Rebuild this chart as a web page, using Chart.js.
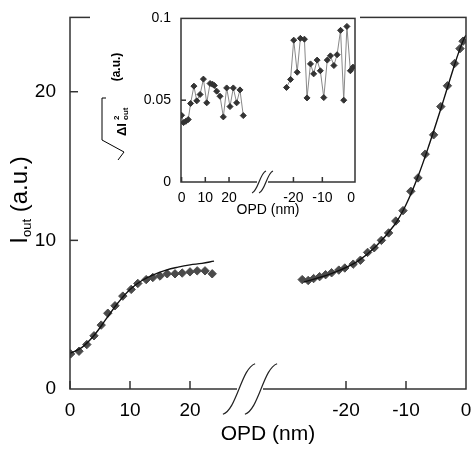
<!DOCTYPE html>
<html><head><meta charset="utf-8">
<script src="https://cdn.jsdelivr.net/npm/chart.js@4.4.0/dist/chart.umd.min.js"></script>
<style>
body{margin:0;background:#fff;}
#wrap{position:relative;width:474px;height:451px;}
#main{position:absolute;left:0;top:0;}
#inset{position:absolute;left:90px;top:8px;}
</style></head><body>
<div id="wrap"><canvas id="main" width="474" height="451"></canvas><canvas id="inset" width="270" height="215"></canvas></div>
<script>
// Main data: OPD (nm) and I_out (a.u.)
const leftOPD = [0.1,1.5,2.8,4,5.2,6.3,7.5,8.8,10.2,11.3,12.7,13.8,15,16.2,17.5,18.7,20,21.2,22.5,23.7];
const leftI   = [2.36,2.54,2.99,3.58,4.3,5.1,5.6,6.25,6.7,7.1,7.36,7.5,7.6,7.75,7.75,7.8,7.88,7.95,7.95,7.75];
const rightOPD = [-27.3,-26.3,-25.4,-24.4,-23.4,-22.4,-21.2,-20.2,-18.8,-17.6,-16.4,-15.3,-14.1,-12.9,-11.7,-10.5,-9.2,-8.0,-6.8,-5.4,-4.2,-3.1,-1.9,-1.0,-0.5];
const rightI   = [7.36,7.3,7.43,7.56,7.69,7.82,8.0,8.14,8.4,8.66,9.19,9.5,10.0,10.5,11.3,12.0,13.3,14.2,15.8,17.1,19.0,20.4,21.9,22.9,23.4];
const fitLeftOPD = [0,2,4,6,8,10,12,14,16,18,20,22,24];
const fitLeftI   = [2.4,2.8,3.6,4.7,5.8,6.7,7.3,7.7,8.0,8.2,8.35,8.45,8.6];
const fitRightOPD = [-27,-24,-21,-18,-15,-12,-10,-8,-6,-4,-2,-1,-0.3,0];
const fitRightI   = [7.2,7.55,8.0,8.6,9.6,11.0,12.4,14.3,16.6,19.1,21.7,22.9,23.6,23.8];
const mainTicksX = [0,10,20,-20,-10,0];
const mainTicksY = [0,10,20];
// Inset data: OPD (nm) and sqrt(ΔI²out) (a.u.)
const inLeftOPD = [0,0.84,1.8,2.8,3.8,5.2,6.4,7.8,9.2,10.6,12,13,13.8,14.8,16.2,17.6,19,20.4,21.8,23.2,24.6,26];
const inLeftV = [0.0408,0.0363,0.0371,0.0382,0.048,0.0586,0.0496,0.0535,0.0629,0.0484,0.0602,0.0598,0.059,0.0555,0.0524,0.0398,0.0575,0.0461,0.0575,0.0484,0.0563,0.0406];
const inRightOPD = [-22.4,-21,-19.9,-18.7,-17.6,-16.2,-15.3,-14.1,-13,-11.8,-10.7,-9.5,-8.3,-7.2,-6.0,-4.9,-3.7,-2.6,-1.5,-0.3,0.6];
const inRightV = [0.0578,0.0627,0.0867,0.0671,0.0878,0.0873,0.0514,0.0722,0.0661,0.0745,0.068,0.0516,0.0745,0.0771,0.0712,0.0778,0.0927,0.05,0.0951,0.068,0.0702];
const insetTicksX = [0,10,20,-20,-10,0];
const insetTicksY = [0,0.05,0.1];

const mainPos = (o,right)=> right ? 66+o : o;
const inPos = (o,right)=> right ? 58.7+o : o*0.821;
const pts=(xs,ys,f,r)=>xs.map((x,i)=>({x:f(x,r),y:ys[i]}));

const INK='#333';
function frameTicks(opts){
  return {id:'frame'+opts.id,afterDraw(c){
    const a=c.chartArea,ctx=c.ctx;ctx.save();
    ctx.strokeStyle=INK;ctx.lineWidth=1.5;ctx.strokeRect(a.left,a.top,a.right-a.left,a.bottom-a.top);
    const xs=c.scales.x, ys=c.scales.y;
    opts.xt.forEach(v=>{const px=xs.getPixelForValue(v);ctx.beginPath();ctx.moveTo(px,a.bottom);ctx.lineTo(px,a.bottom-opts.tl);ctx.stroke();});
    opts.yt.forEach(v=>{const py=ys.getPixelForValue(v);ctx.beginPath();ctx.moveTo(a.left,py);ctx.lineTo(a.left+opts.tl,py);ctx.stroke();});
    ctx.strokeStyle='#222';ctx.lineWidth=1.2;ctx.fillStyle='#fff';
    const bx=xs.getPixelForValue(opts.bx), by=a.bottom, h=opts.bh, g=opts.bg;
    ctx.fillRect(bx-g/2-2,by-3,g+4,6);
    [-g/2,g/2].forEach(d=>{ctx.beginPath();ctx.moveTo(bx+d-h*0.35,by+h*0.55);
      ctx.bezierCurveTo(bx+d-h*0.05,by+h*0.45,bx+d+h*0.05,by-h*0.45,bx+d+h*0.35,by-h*0.55);ctx.stroke();});
    opts.extra && opts.extra(ctx,c);
    ctx.restore();}};
}
function ds(data,line){
  return line?{data,showLine:true,borderColor:'#111',borderWidth:1.4,pointRadius:0,tension:0.4,fill:false,order:0}
   :{data,showLine:false,pointStyle:'rectRot',pointRadius:4.2,backgroundColor:'#4a4a4a',borderColor:'#4a4a4a',order:1};
}
new Chart(document.getElementById('main'),{type:'scatter',
 data:{datasets:[ds(pts(leftOPD,leftI,mainPos,false)),ds(pts(rightOPD,rightI,mainPos,true)),
   ds(pts(fitLeftOPD,fitLeftI,mainPos,false),true),ds(pts(fitRightOPD,fitRightI,mainPos,true),true)]},
 options:{responsive:false,animation:false,layout:{padding:{top:-7,right:8}},
  plugins:{legend:{display:false},tooltip:{enabled:false}},
  scales:{
   x:{type:'linear',min:0,max:66,afterFit(s){s.height=62;},
     afterBuildTicks(s){s.ticks=mainTicksX.map((v,i)=>({value:mainPos(v,i>2)}));},
     grid:{display:false},border:{display:false},
     ticks:{color:'#000',font:{family:'Liberation Sans',size:19},padding:2,callback:v=>v<30?v:Math.round(v-66)},
     title:{display:true,text:'OPD (nm)',color:'#000',font:{family:'Liberation Sans',size:21},padding:{top:4}}},
   y:{min:0,max:25,afterFit(s){s.width=70;},
     afterBuildTicks(s){s.ticks=mainTicksY.map(v=>({value:v}));},
     grid:{display:false},border:{display:false},
     ticks:{color:'#000',font:{family:'Liberation Sans',size:19},padding:6}}}},
 plugins:[frameTicks({id:'m',xt:[0,10,20,46,56],yt:[10,20],tl:8,bx:30,bh:46,bg:22,extra(ctx){
   ctx.fillStyle='#000';ctx.translate(20,200);ctx.rotate(-Math.PI/2);ctx.textBaseline='middle';
   ctx.font='13px Liberation Sans';const ws=ctx.measureText('out').width;
   ctx.font='24px Liberation Sans';const w1=ctx.measureText('I').width,w2=ctx.measureText(' (a.u.)').width;let x=-(w1+ws+w2)/2;
   ctx.textAlign='left';ctx.fillText('I',x,0);x+=w1;ctx.font='13px Liberation Sans';ctx.fillText('out',x,7);x+=ws;
   ctx.font='24px Liberation Sans';ctx.fillText(' (a.u.)',x,0);}})]
});
const OX=90, OY=8;
new Chart(document.getElementById('inset'),{type:'scatter',
 data:{datasets:[
  {data:pts(inLeftOPD,inLeftV,inPos,false),showLine:true,borderColor:'#888',borderWidth:1,pointStyle:'rectRot',pointRadius:3,backgroundColor:'#333',pointBorderColor:'#333'},
  {data:pts(inRightOPD,inRightV,inPos,true),showLine:true,borderColor:'#888',borderWidth:1,pointStyle:'rectRot',pointRadius:3,backgroundColor:'#333',pointBorderColor:'#333'}]},
 options:{responsive:false,animation:false,layout:{padding:{top:-1,right:4}},
  plugins:{legend:{display:false},tooltip:{enabled:false}},
  scales:{
   x:{type:'linear',min:-0.2,max:60,afterFit(s){s.height=41;},
     afterBuildTicks(s){s.ticks=insetTicksX.map((v,i)=>({value:inPos(v,i>2)}));},
     grid:{display:false},border:{display:false},
     ticks:{color:'#000',font:{family:'Liberation Sans',size:14},padding:0,callback:(v,i)=>insetTicksX[i]},
     title:{display:true,text:'OPD (nm)',color:'#000',font:{family:'Liberation Sans',size:14},padding:{top:0}}},
   y:{min:0,max:0.1,afterFit(s){s.width=91;},
     afterBuildTicks(s){s.ticks=insetTicksY.map(v=>({value:v}));},
     grid:{display:false},border:{display:false},
     ticks:{color:'#000',font:{family:'Liberation Sans',size:14},padding:2,callback:v=>v===0?'0':(v===0.1?'0.1':'0.05')}}}},
 plugins:[{id:'bg',beforeDraw(c){const x=c.ctx;x.save();x.fillStyle='#fff';x.fillRect(0,0,c.width,c.height);x.restore();}},
  frameTicks({id:'i',xt:[0,8.21,16.42,38.7,48.7],yt:[0.05],tl:5,bx:28,bh:20,bg:7,extra(ctx){
   ctx.fillStyle='#000';ctx.strokeStyle='#000';ctx.lineWidth=1;
   ctx.beginPath();ctx.moveTo(106-OX,98-OY);ctx.lineTo(102-OX,98-OY);ctx.lineTo(102-OX,140-OY);ctx.lineTo(124-OX,152-OY);ctx.lineTo(118-OX,160-OY);ctx.stroke();
   ctx.save();ctx.translate(122-OX,122-OY);ctx.rotate(-Math.PI/2);ctx.textAlign='left';ctx.textBaseline='middle';
   ctx.font='bold 13px Liberation Sans';ctx.fillText('ΔI',-14,0);ctx.font='bold 8px Liberation Sans';ctx.fillText('2',2,-5);ctx.fillText('out',2,4);ctx.restore();
   ctx.save();ctx.translate(117-OX,67-OY);ctx.rotate(-Math.PI/2);ctx.textAlign='center';ctx.textBaseline='middle';
   ctx.font='bold 12px Liberation Sans';ctx.fillText('(a.u.)',0,0);ctx.restore();
  }})]
});
</script></body></html>
